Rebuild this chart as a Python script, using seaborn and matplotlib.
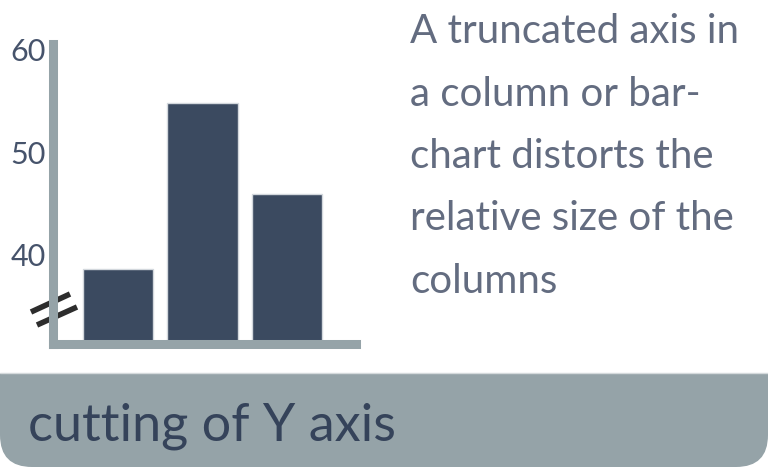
"""Truncated y axis infographic."""

import matplotlib
matplotlib.use("Agg")
import matplotlib.pyplot as plt
from matplotlib.patches import FancyBboxPatch, Rectangle
import pandas as pd
import seaborn as sns

# data
categories = ["A", "B", "C"]
values = [38.6, 54.8, 45.9]
yticks = [40, 50, 60]
blurb = ["A truncated axis in", "a column or bar-", "chart distorts the",
    "relative size of the", "columns"]
caption = "cutting of Y axis"

BAR = "#3b4a60"
AXIS = "#95a3a8"
TEXT = "#636c80"
DARK = "#35435a"
FONT = "Lato"

sns.set_theme(style="white")
plt.rcParams["font.family"] = [FONT, "DejaVu Sans"]

W, H = 768, 467
fig = plt.figure(figsize=(W / 100, H / 100), dpi=100)

# background layer in pixel coords
bg = fig.add_axes([0, 0, 1, 1], zorder=0)
bg.set_xlim(0, W)
bg.set_ylim(H, 0)
bg.axis("off")

# bottom band: round bottom corners, square top
band = FancyBboxPatch((0, 373), W, 94, boxstyle="round,pad=0,rounding_size=32",
    facecolor=AXIS, edgecolor="none")
bg.add_patch(band)
bg.add_patch(Rectangle((0, 373), W, 40, facecolor=AXIS, edgecolor="none"))
bg.plot([0, W], [373, 373], color="#d5dadc", lw=1)
bg.text(28, 440, caption, color=DARK, fontsize=37.5, fontweight="normal",
    va="baseline", ha="left")

# paragraph on the right
for i, line in enumerate(blurb):
  bg.text(410, 43 + i * 62.5, line, color=TEXT, fontsize=29,
      fontweight="normal", va="baseline", ha="left")

# break marks on the axis
for (x0, y0, x1, y1) in [(31, 312, 70, 294), (37, 325, 77, 307)]:
  bg.plot([x0, x1], [y0, y1], color="#2d2d2d", lw=4, solid_capstyle="butt")

# the chart
ax = fig.add_axes([52.5 / W, (H - 344) / H, (355.5 - 52.5) / W,
    (344 - 43.5) / H], zorder=1)
ax.patch.set_alpha(0)
df = pd.DataFrame({"cat": categories, "val": values})
sns.barplot(data=df, x="cat", y="val", color=BAR, saturation=1, width=0.83,
    edgecolor="#d3d8dd", linewidth=1, ax=ax)
ax.set_ylim(31.3, 60.63)
ax.set_xlim(-0.775, 2.81)
ax.set_yticks(yticks)
ax.set_yticklabels([str(t) for t in yticks])
ax.set_xticks([])
ax.set_xlabel("")
ax.set_ylabel("")
ax.tick_params(axis="y", length=0, pad=5, labelsize=22, labelcolor="#46536b")
for side in ["top", "right"]:
  ax.spines[side].set_visible(False)
for side in ["left", "bottom"]:
  ax.spines[side].set_color(AXIS)
  ax.spines[side].set_linewidth(6.5)
  ax.spines[side].set_zorder(5)

fig.savefig("out.png", dpi=100)
